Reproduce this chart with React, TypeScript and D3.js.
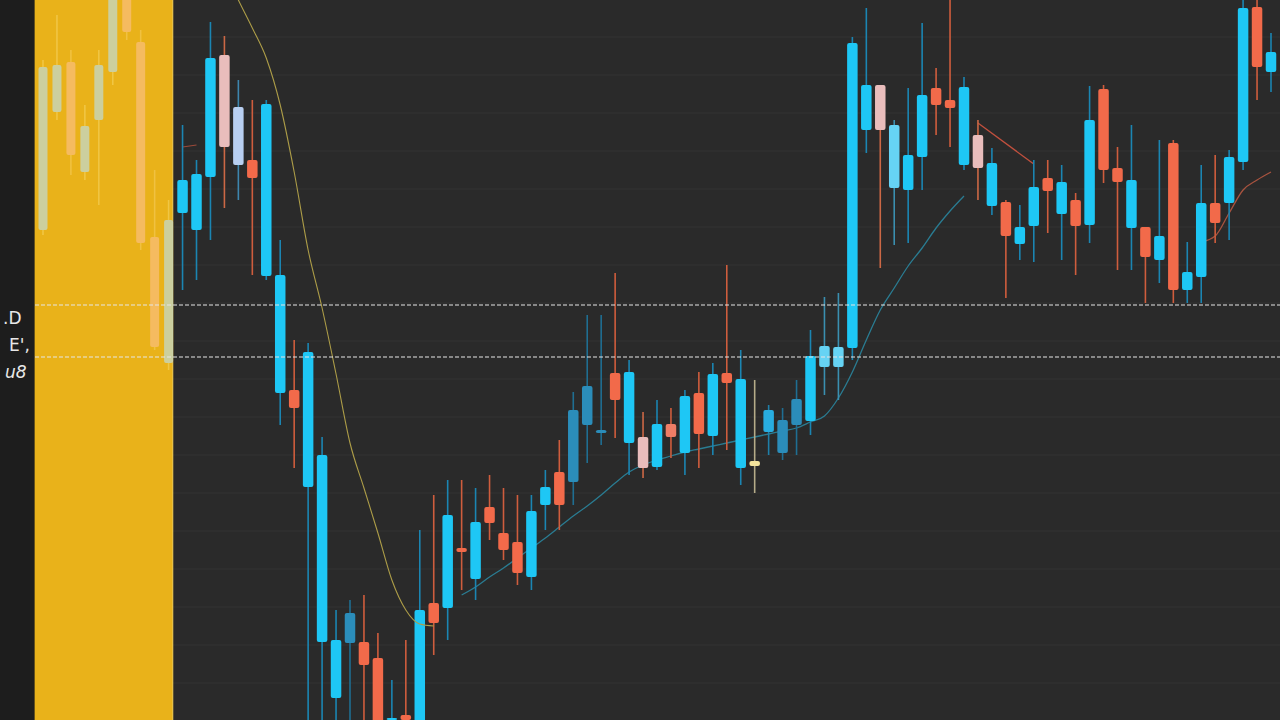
import React from "react";
import * as d3 from "d3";

const W = 1280;
const H = 720;

// candle index (-10 .. 78)
const idx: number[] = d3.range(-10, 79);

const opens: number[] = [
  149.0, 160.8, 165.8, 154.8, 160.0, 164.8, 172.5, 167.8, 148.3, 135.7,
  150.7, 149.0, 154.3, 166.5, 155.5, 156.0, 144.4, 132.7, 133.0, 123.3,
  107.8, 102.2, 107.7, 107.8, 106.2, 100.0, 100.5, 99.5, 111.7, 111.2,
  117.2, 114.1, 121.3, 118.7, 117.8, 114.3, 121.5, 124.8, 123.8, 129.5,
  128.7, 134.7, 127.7, 128.3, 125.3, 129.6, 126.7, 132.7, 128.4, 134.7,
  125.2, 125.4, 128.8, 126.7, 129.5, 129.9, 135.3, 135.3, 137.2, 159.0,
  163.5, 153.2, 153.0, 156.3, 163.2, 162.0, 155.5, 158.5, 151.4, 151.8,
  147.6, 149.4, 154.2, 150.6, 152.0, 149.5, 163.1, 155.2, 149.2, 149.3,
  146.0, 157.7, 143.0, 144.3, 151.7, 151.7, 155.8, 171.3, 164.8,
];
const closes: number[] = [
  165.3, 165.5, 156.5, 159.4, 165.5, 172.5, 168.8, 147.7, 137.3, 150.0,
  154.0, 154.6, 166.2, 157.3, 161.3, 154.2, 161.6, 144.5, 131.2, 136.8,
  126.5, 108.0, 110.7, 105.5, 99.5, 100.2, 100.0, 111.0, 109.7, 120.5,
  116.8, 119.8, 119.7, 117.0, 114.7, 120.9, 123.3, 121.5, 131.0, 133.4,
  129.0, 132.0, 134.8, 125.2, 129.6, 128.3, 132.4, 128.6, 134.6, 133.7,
  134.1, 125.9, 131.0, 130.0, 132.1, 136.4, 137.4, 137.3, 167.7, 163.5,
  159.0, 159.5, 156.5, 162.5, 161.5, 161.2, 163.3, 155.2, 155.7, 148.4,
  149.3, 153.3, 152.9, 153.8, 149.4, 160.0, 155.0, 153.8, 154.0, 146.3,
  148.4, 143.0, 144.8, 151.7, 149.7, 156.3, 171.2, 165.3, 166.8,
];
const highs: number[] = [
  166.0, 170.5, 167.0, 161.5, 167.0, 173.0, 173.0, 169.0, 155.0, 152.0,
  159.5, 156.0, 169.8, 168.4, 164.0, 162.0, 162.0, 148.0, 138.0, 137.7,
  128.3, 111.0, 112.0, 112.5, 108.7, 104.0, 108.0, 119.0, 122.5, 124.0,
  124.0, 123.2, 124.5, 123.2, 122.5, 122.5, 125.0, 128.0, 132.8, 140.5,
  140.5, 144.7, 136.0, 130.8, 132.0, 131.2, 133.0, 134.8, 135.7, 145.5,
  137.0, 134.0, 131.5, 131.2, 134.0, 139.0, 142.3, 142.7, 168.3, 171.2,
  163.5, 160.0, 163.2, 169.7, 165.2, 172.0, 164.3, 160.0, 157.2, 152.0,
  151.5, 156.0, 156.0, 155.5, 152.7, 163.4, 163.5, 157.3, 159.5, 149.3,
  158.0, 158.0, 147.8, 155.5, 156.5, 157.0, 172.0, 172.0, 168.7,
];
const lows: number[] = [
  148.5, 160.0, 154.5, 154.0, 151.5, 163.5, 168.0, 147.0, 137.0, 135.0,
  143.0, 144.0, 148.0, 151.2, 152.0, 144.5, 144.0, 129.5, 125.2, 100.0,
  100.0, 100.0, 100.0, 100.0, 99.5, 99.5, 99.5, 99.5, 106.5, 108.0,
  113.0, 112.0, 118.0, 116.0, 113.5, 113.0, 119.0, 119.0, 121.5, 125.7,
  127.5, 128.2, 124.5, 124.2, 125.0, 126.2, 124.5, 125.2, 126.5, 127.0,
  123.5, 122.7, 126.5, 126.0, 126.5, 128.5, 132.5, 132.0, 136.0, 156.7,
  145.2, 147.5, 147.7, 153.0, 158.5, 157.3, 155.0, 152.0, 150.5, 142.2,
  146.0, 145.8, 148.7, 146.0, 144.5, 147.7, 153.7, 145.0, 145.0, 141.7,
  143.7, 141.7, 141.7, 141.7, 147.7, 148.0, 155.0, 162.0, 162.8,
];
const tones: string[] = [
  "yb", "yb", "yo", "yb", "yb", "yb", "yo", "yo", "yo", "yb",
  "b", "b", "b", "pk", "bl", "o", "b", "b", "o", "b",
  "b", "b", "bd", "o", "o", "b", "o", "b", "o", "b",
  "o", "b", "o", "o", "o", "b", "b", "o", "bd", "bd",
  "bd", "o", "b", "pk", "b", "ol", "b", "o", "b", "o",
  "b", "y", "bm", "bd", "bd", "b", "bc", "bc", "b", "b",
  "pk", "bc", "b", "b", "o", "o", "b", "pk", "b", "o",
  "b", "b", "o", "b", "o", "b", "o", "o", "b", "o",
  "b", "o", "b", "b", "o", "b", "b", "o", "b",
];

// moving-average style lines
const slowIdx: number[] = d3.range(3, 19);
const slowVals: number[] = [175.0, 172.0, 169.2, 166.2, 161.5, 154.8, 147.0, 141.2, 134.6, 127.7, 123.2, 118.7, 114.0, 111.0, 109.6, 109.4];
const tealIdx: number[] = d3.range(20, 57);
const tealVals: number[] = [
  112.5, 113.3, 114.3, 115.2, 116.2, 117.2, 118.2, 119.3, 120.4, 121.4,
  122.5, 123.7, 124.8, 125.5, 126.0, 126.4, 126.8, 127.1, 127.4, 127.7,
  128.0, 128.3, 128.6, 128.9, 129.2, 129.8, 130.4, 132.2, 134.8, 138.0,
  141.0, 143.2, 145.4, 147.2, 149.2, 150.9, 152.4,
];
const redSeg1Idx: number[] = [0, 1];
const redSeg1Vals: number[] = [157.3, 157.5];
const redSeg2Idx: number[] = [57, 61];
const redSeg2Vals: number[] = [159.7, 155.6];
const redSeg3Idx: number[] = [73, 74, 75, 76, 77, 78];
const redSeg3Vals: number[] = [147.8, 148.4, 150.7, 153.0, 154.0, 154.8];

const levels: number[] = [141.5, 136.3];
const axisLabels: string[] = [".D", "E',", "u8"];
const axisLabelVals: number[] = [140.2, 137.5, 134.8];
const highlightRange: number[] = [-10.6, -0.7];

const TONE: Record<string, { body: string; wick: string; op?: number; w?: number }> = {
  b: { body: "#1ec7f5", wick: "#1b85b2" },
  bd: { body: "#2b8dba", wick: "#1f6e92" },
  bm: { body: "#28ade0", wick: "#1f7fa8" },
  bc: { body: "#66d3f4", wick: "#3a8fb0" },
  bl: { body: "#b8cff1", wick: "#3d86ae" },
  o: { body: "#f26a4a", wick: "#cf5d3d" },
  ol: { body: "#ee7d66", wick: "#cf5d3d" },
  pk: { body: "#e9bdbc", wick: "#cc6845" },
  y: { body: "#f3e39c", wick: "#b5ab88" },
  yb: { body: "#c5d8c3", wick: "#f3cc50", op: 0.78, w: 9 },
  yo: { body: "#f9be74", wick: "#f3c64c", op: 0.78, w: 9 },
};

const x = d3.scaleLinear().domain([-10, 78]).range([43, 1271]);
const y = d3.scaleLinear().domain([100, 172]).range([H, 0]);
const gridVals: number[] = d3.range(103.7, 172, 3.8);

export default function App() {
  const bodyW = 10.5;
  const line = d3
    .line<[number, number]>()
    .x((d) => x(d[0]))
    .y((d) => y(d[1]))
    .curve(d3.curveMonotoneX);
  const straight = d3
    .line<[number, number]>()
    .x((d) => x(d[0]))
    .y((d) => y(d[1]));

  const zip = (a: number[], b: number[]) => a.map((v, i) => [v, b[i]] as [number, number]);

  return (
    <div style={{ position: "fixed", left: 0, top: 0, width: W, height: H }}>
      <svg width={W} height={H} style={{ display: "block" }}>
        <rect x={0} y={0} width={W} height={H} fill="#2a2a2a" />
        {gridVals.map((g, i) => (
          <line key={"g" + i} x1={35} x2={W} y1={y(g)} y2={y(g)} stroke="#333333" strokeWidth={1} />
        ))}
        <rect x={0} y={0} width={35} height={H} fill="#1d1d1d" />
        <rect
          x={x(highlightRange[0])}
          y={0}
          width={x(highlightRange[1]) - x(highlightRange[0])}
          height={H}
          fill="#e9b21a"
        />
        <line
          x1={x(highlightRange[1])}
          x2={x(highlightRange[1])}
          y1={0}
          y2={H}
          stroke="#f4cf55"
          strokeWidth={1}
        />
        {/* teal average line (behind candles) */}
        <path d={line(zip(tealIdx, tealVals)) || ""} fill="none" stroke="#2a7c92" strokeWidth={1.3} />
        <path d={straight(zip(redSeg1Idx, redSeg1Vals)) || ""} fill="none" stroke="#9c4a3a" strokeWidth={1.2} />
        <path d={straight(zip(redSeg2Idx, redSeg2Vals)) || ""} fill="none" stroke="#c2503e" strokeWidth={1.3} />
        <path d={line(zip(redSeg3Idx, redSeg3Vals)) || ""} fill="none" stroke="#a8533f" strokeWidth={1.3} />
        {idx.map((i, k) => {
          const t = TONE[tones[k]];
          const o = opens[k];
          const c = closes[k];
          const top = y(Math.max(o, c));
          const bot = y(Math.min(o, c));
          const cx = x(i);
          const bw = t.w ?? bodyW;
          return (
            <g key={"c" + i} opacity={t.op ?? 1}>
              <line x1={cx} x2={cx} y1={y(highs[k])} y2={y(lows[k])} stroke={t.wick} strokeWidth={1.6} />
              <rect
                x={cx - bw / 2}
                y={top}
                width={bw}
                height={Math.max(2, bot - top)}
                rx={2}
                fill={t.body}
              />
            </g>
          );
        })}
        {/* slow average line */}
        <path d={line(zip(slowIdx, slowVals)) || ""} fill="none" stroke="#ad9d48" strokeWidth={1.1} />
        {levels.map((lv, i) => (
          <line
            key={"lv" + i}
            x1={35}
            x2={W}
            y1={y(lv)}
            y2={y(lv)}
            stroke="#e6e6e6"
            strokeWidth={1.2}
            strokeDasharray="4 2"
          />
        ))}
        {axisLabels.map((s, i) => (
          <text
            key={"al" + i}
            x={i === 1 ? 9 : i === 0 ? 3 : 5}
            y={y(axisLabelVals[i])}
            dy="0.35em"
            fontFamily="DejaVu Sans, Liberation Sans, sans-serif"
            fontSize={17}
            fontStyle={i === 2 ? "italic" : "normal"}
            fill="#e8e8e8"
          >
            {s}
          </text>
        ))}
      </svg>
    </div>
  );
}
